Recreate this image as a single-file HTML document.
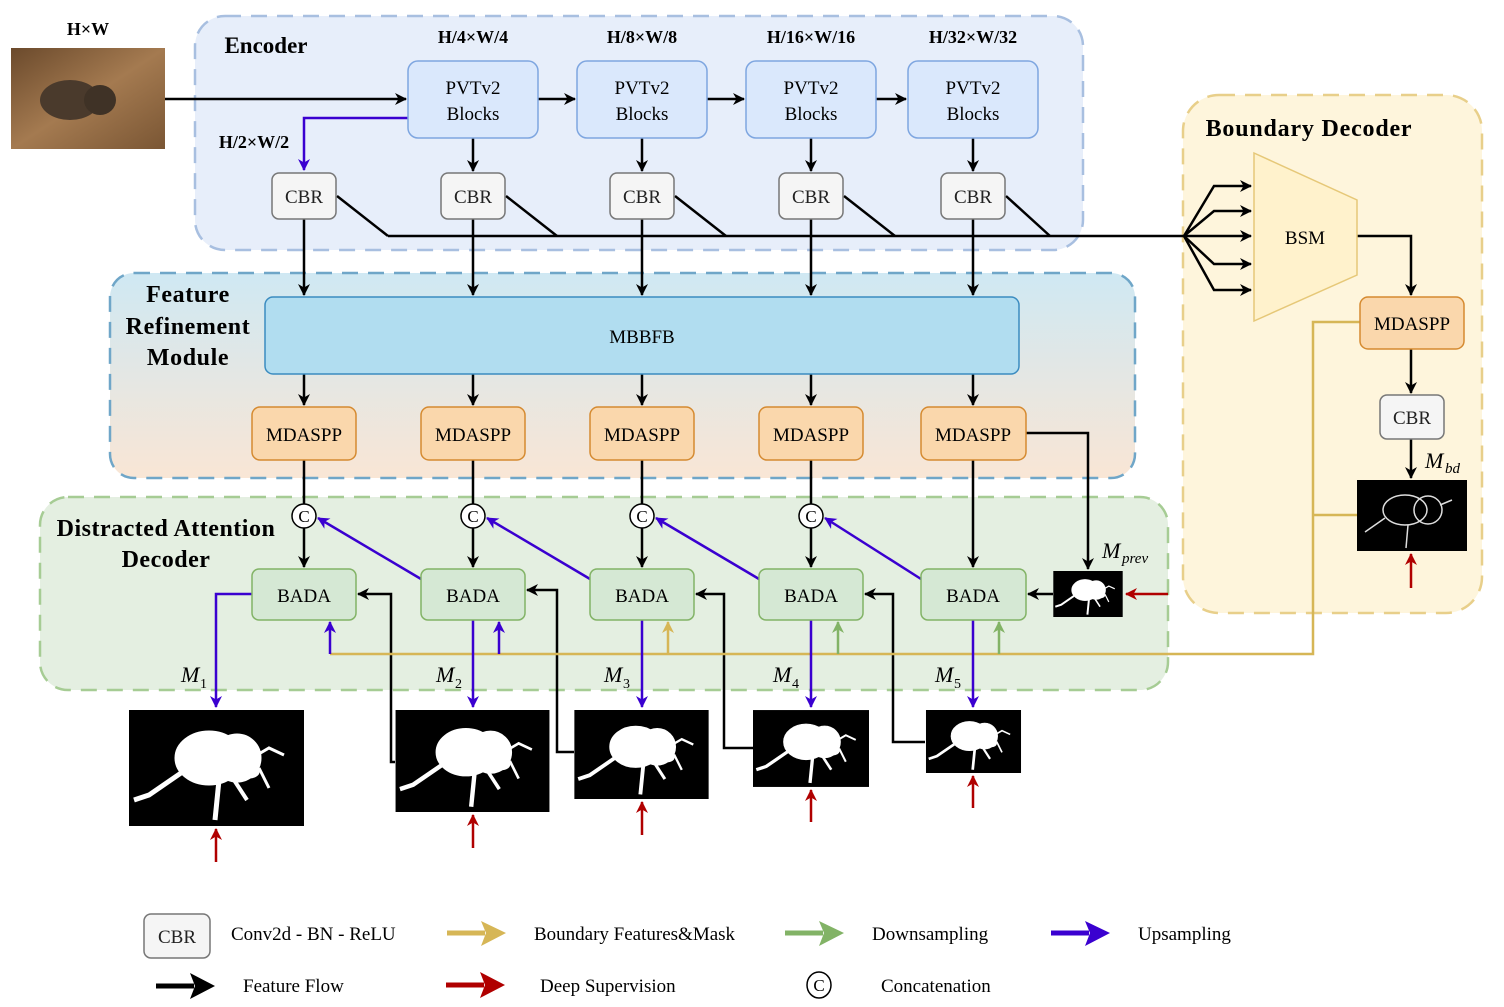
<!DOCTYPE html>
<html><head><meta charset="utf-8"><style>
html,body{margin:0;padding:0;background:#fff}
svg{display:block}
text{font-family:"Liberation Serif",serif}
</style></head><body>
<svg width="1504" height="1007" viewBox="0 0 1504 1007" xmlns="http://www.w3.org/2000/svg">
<defs>
<marker id="ak" markerWidth="12" markerHeight="12" refX="11" refY="6" orient="auto" markerUnits="userSpaceOnUse"><path d="M0,0 L12,6 L0,12 L3.5,6z" fill="#000"/></marker>
<marker id="ab" markerWidth="12" markerHeight="12" refX="11" refY="6" orient="auto" markerUnits="userSpaceOnUse"><path d="M0,0 L12,6 L0,12 L3.5,6z" fill="#3a00d0"/></marker>
<marker id="ar" markerWidth="12" markerHeight="12" refX="11" refY="6" orient="auto" markerUnits="userSpaceOnUse"><path d="M0,0 L12,6 L0,12 L3.5,6z" fill="#b00000"/></marker>
<marker id="ag" markerWidth="12" markerHeight="12" refX="11" refY="6" orient="auto" markerUnits="userSpaceOnUse"><path d="M0,0 L12,6 L0,12 L3.5,6z" fill="#82b366"/></marker>
<marker id="ay" markerWidth="12" markerHeight="12" refX="11" refY="6" orient="auto" markerUnits="userSpaceOnUse"><path d="M0,0 L12,6 L0,12 L3.5,6z" fill="#d6b656"/></marker>
<linearGradient id="frg" x1="0" y1="0" x2="0" y2="1"><stop offset="0" stop-color="#cfe8f3"/><stop offset="1" stop-color="#f9e6d5"/></linearGradient>
<linearGradient id="img" x1="0" y1="0" x2="1" y2="1"><stop offset="0" stop-color="#6b4a2c"/><stop offset="0.5" stop-color="#a47a50"/><stop offset="1" stop-color="#7a5634"/></linearGradient>
<symbol id="bug" viewBox="0 0 175 116">
<rect width="175" height="116" fill="#000"/>
<g fill="#fff" stroke="#fff">
<ellipse cx="80" cy="48" rx="34" ry="27"/>
<ellipse cx="108" cy="48" rx="24" ry="24"/>
<ellipse cx="120" cy="62" rx="10" ry="6"/>
<path d="M52,63 L20,85 L5,90" fill="none" stroke-width="5"/>
<path d="M90,70 L86,110" fill="none" stroke-width="5"/>
<path d="M105,70 L118,90" fill="none" stroke-width="4"/>
<path d="M128,45 L140,38 L155,45" fill="none" stroke-width="3"/>
<path d="M130,58 L140,78" fill="none" stroke-width="3"/>
</g>
</symbol>
</defs>

<rect x="195" y="16" width="888" height="234" rx="30" fill="#e7eefa" stroke="#a8bfe0" stroke-width="2.5" stroke-dasharray="16,10"/>
<rect x="110" y="273" width="1025" height="205" rx="24" fill="url(#frg)" stroke="#6fa6c8" stroke-width="2.5" stroke-dasharray="16,10"/>
<rect x="40" y="497" width="1128" height="193" rx="28" fill="#e4efe1" stroke="#a6cc94" stroke-width="2.5" stroke-dasharray="16,10"/>
<rect x="1183" y="95" width="299" height="518" rx="36" fill="#fef5dc" stroke="#e8cf8a" stroke-width="2.5" stroke-dasharray="16,10"/>

<text x="88" y="35" font-size="18" font-weight="bold" text-anchor="middle">H×W</text>
<text x="266" y="53" font-size="23" font-weight="bold" text-anchor="middle">Encoder</text>
<text x="473" y="43" font-size="18" font-weight="bold" text-anchor="middle">H/4×W/4</text>
<text x="642" y="43" font-size="18" font-weight="bold" text-anchor="middle">H/8×W/8</text>
<text x="811" y="43" font-size="18" font-weight="bold" text-anchor="middle">H/16×W/16</text>
<text x="973" y="43" font-size="18" font-weight="bold" text-anchor="middle">H/32×W/32</text>
<text x="254" y="148" font-size="18" font-weight="bold" text-anchor="middle">H/2×W/2</text>
<text font-size="24" font-weight="bold" text-anchor="middle" letter-spacing="0.6"><tspan x="188" y="302">Feature</tspan><tspan x="188" y="334">Refinement</tspan><tspan x="188" y="365">Module</tspan></text>
<text font-size="24" font-weight="bold" text-anchor="middle" letter-spacing="0.5"><tspan x="166" y="536">Distracted Attention</tspan><tspan x="166" y="567">Decoder</tspan></text>
<text x="1309" y="136" font-size="24" font-weight="bold" text-anchor="middle" letter-spacing="0.8">Boundary  Decoder</text>

<rect x="11" y="48" width="154" height="101" fill="url(#img)"/>
<ellipse cx="70" cy="100" rx="30" ry="20" fill="#4a3a2c"/>
<ellipse cx="100" cy="100" rx="16" ry="15" fill="#3f3226"/>

<g stroke="#000" stroke-width="2.5" fill="none">
<path d="M165,99 H406" marker-end="url(#ak)"/>
<path d="M538,99 H575" marker-end="url(#ak)"/>
<path d="M707,99 H744" marker-end="url(#ak)"/>
<path d="M876,99 H906" marker-end="url(#ak)"/>
<path d="M473,138 V171" marker-end="url(#ak)"/>
<path d="M642,138 V171" marker-end="url(#ak)"/>
<path d="M811,138 V171" marker-end="url(#ak)"/>
<path d="M973,138 V171" marker-end="url(#ak)"/>
<path d="M388,236 H1184"/>
<path d="M337,196 L388,236 M506,196 L557,236 M675,196 L726,236 M844,196 L895,236 M1006,196 L1050,236"/>
<path d="M304,219 V295" marker-end="url(#ak)"/>
<path d="M473,219 V295" marker-end="url(#ak)"/>
<path d="M642,219 V295" marker-end="url(#ak)"/>
<path d="M811,219 V295" marker-end="url(#ak)"/>
<path d="M973,219 V295" marker-end="url(#ak)"/>
<path d="M304,374 V405" marker-end="url(#ak)"/>
<path d="M473,374 V405" marker-end="url(#ak)"/>
<path d="M642,374 V405" marker-end="url(#ak)"/>
<path d="M811,374 V405" marker-end="url(#ak)"/>
<path d="M973,374 V405" marker-end="url(#ak)"/>
<path d="M1184,236 L1214,186 H1251" marker-end="url(#ak)"/>
<path d="M1184,236 L1214,211 H1251" marker-end="url(#ak)"/>
<path d="M1184,236 H1251" marker-end="url(#ak)"/>
<path d="M1184,236 L1214,264 H1251" marker-end="url(#ak)"/>
<path d="M1184,236 L1214,290 H1251" marker-end="url(#ak)"/>
<path d="M1357,236 H1411 V295" marker-end="url(#ak)"/>
<path d="M1411,349 V393" marker-end="url(#ak)"/>
<path d="M1411,439 V478" marker-end="url(#ak)"/>
<path d="M304,460 V504"/><path d="M304,528 V567" marker-end="url(#ak)"/>
<path d="M473,460 V504"/><path d="M473,528 V567" marker-end="url(#ak)"/>
<path d="M642,460 V504"/><path d="M642,528 V567" marker-end="url(#ak)"/>
<path d="M811,460 V504"/><path d="M811,528 V567" marker-end="url(#ak)"/>
<path d="M973,460 V567" marker-end="url(#ak)"/>
<path d="M1026,433 H1088 V569" marker-end="url(#ak)"/>
<path d="M1053,594 H1028" marker-end="url(#ak)"/>
<path d="M395,762 H391 V594 H358" marker-end="url(#ak)"/>
<path d="M574,752 H557 V590 H527" marker-end="url(#ak)"/>
<path d="M753,748 H724 V594 H696" marker-end="url(#ak)"/>
<path d="M925,742 H893 V594 H865" marker-end="url(#ak)"/>
</g>

<g stroke="#d6b656" stroke-width="2.5" fill="none">
<path d="M1360,322 H1313 V654 H330"/>
<path d="M1357,515 H1313"/>
<path d="M668,654 V622" marker-end="url(#ay)"/>
</g>
<g stroke="#82b366" stroke-width="2.5" fill="none">
<path d="M838,654 V622" marker-end="url(#ag)"/>
<path d="M999,654 V622" marker-end="url(#ag)"/>
</g>
<g stroke="#3a00d0" stroke-width="2.5" fill="none">
<path d="M408,118 H304 V170" marker-end="url(#ab)"/>
<path d="M330,654 V622" marker-end="url(#ab)"/>
<path d="M499,654 V622" marker-end="url(#ab)"/>
<path d="M252,594 H216 V707" marker-end="url(#ab)"/>
<path d="M473,620 V707" marker-end="url(#ab)"/>
<path d="M642,620 V707" marker-end="url(#ab)"/>
<path d="M811,620 V707" marker-end="url(#ab)"/>
<path d="M973,620 V707" marker-end="url(#ab)"/>
<path d="M421,579 L318,518" marker-end="url(#ab)"/>
<path d="M590,579 L487,518" marker-end="url(#ab)"/>
<path d="M759,579 L656,518" marker-end="url(#ab)"/>
<path d="M921,579 L825,518" marker-end="url(#ab)"/>
</g>
<g stroke="#b00000" stroke-width="2.5" fill="none">
<path d="M216,862 V829" marker-end="url(#ar)"/>
<path d="M473,848 V815" marker-end="url(#ar)"/>
<path d="M642,835 V802" marker-end="url(#ar)"/>
<path d="M811,822 V790" marker-end="url(#ar)"/>
<path d="M973,808 V776" marker-end="url(#ar)"/>
<path d="M1411,588 V554" marker-end="url(#ar)"/>
<path d="M1168,594 H1126" marker-end="url(#ar)"/>
</g>

<g fill="#dae8fc" stroke="#7ea6e0" stroke-width="1.5">
<rect x="408" y="61" width="130" height="77" rx="10"/>
<rect x="577" y="61" width="130" height="77" rx="10"/>
<rect x="746" y="61" width="130" height="77" rx="10"/>
<rect x="908" y="61" width="130" height="77" rx="10"/>
</g>
<g font-size="19" text-anchor="middle">
<text x="473" y="94">PVTv2</text><text x="473" y="120">Blocks</text>
<text x="642" y="94">PVTv2</text><text x="642" y="120">Blocks</text>
<text x="811" y="94">PVTv2</text><text x="811" y="120">Blocks</text>
<text x="973" y="94">PVTv2</text><text x="973" y="120">Blocks</text>
</g>
<g fill="#f5f5f5" stroke="#777" stroke-width="1.5">
<rect x="272" y="173" width="64" height="46" rx="7"/>
<rect x="441" y="173" width="64" height="46" rx="7"/>
<rect x="610" y="173" width="64" height="46" rx="7"/>
<rect x="779" y="173" width="64" height="46" rx="7"/>
<rect x="941" y="173" width="64" height="46" rx="7"/>
<rect x="1380" y="395" width="64" height="44" rx="7"/>
</g>
<g font-size="19" text-anchor="middle" fill="#222">
<text x="304" y="203">CBR</text><text x="473" y="203">CBR</text><text x="642" y="203">CBR</text><text x="811" y="203">CBR</text><text x="973" y="203">CBR</text><text x="1412" y="424">CBR</text>
</g>
<rect x="265" y="297" width="754" height="77" rx="8" fill="#b1ddf0" stroke="#3b8cc0" stroke-width="1.5"/>
<text x="642" y="343" font-size="19" text-anchor="middle">MBBFB</text>
<polygon points="1254,153 1357,200 1357,275 1254,321" fill="#fff2cc" stroke="#e6c878" stroke-width="1.5"/>
<text x="1305" y="244" font-size="19" text-anchor="middle">BSM</text>
<g fill="#fad7ac" stroke="#d58a30" stroke-width="1.5">
<rect x="252" y="407" width="104" height="53" rx="8"/>
<rect x="421" y="407" width="104" height="53" rx="8"/>
<rect x="590" y="407" width="104" height="53" rx="8"/>
<rect x="759" y="407" width="104" height="53" rx="8"/>
<rect x="921" y="407" width="105" height="53" rx="8"/>
<rect x="1360" y="297" width="104" height="52" rx="8"/>
</g>
<g font-size="19" text-anchor="middle">
<text x="304" y="441">MDASPP</text><text x="473" y="441">MDASPP</text><text x="642" y="441">MDASPP</text><text x="811" y="441">MDASPP</text><text x="973" y="441">MDASPP</text><text x="1412" y="330">MDASPP</text>
</g>
<g fill="#fff" stroke="#000" stroke-width="1.5">
<circle cx="304" cy="516" r="12"/><circle cx="473" cy="516" r="12"/><circle cx="642" cy="516" r="12"/><circle cx="811" cy="516" r="12"/>
</g>
<g font-size="17" text-anchor="middle">
<text x="304" y="522">C</text><text x="473" y="522">C</text><text x="642" y="522">C</text><text x="811" y="522">C</text>
</g>
<g fill="#d5e8d4" stroke="#82b366" stroke-width="1.5">
<rect x="252" y="569" width="104" height="51" rx="7"/>
<rect x="421" y="569" width="104" height="51" rx="7"/>
<rect x="590" y="569" width="104" height="51" rx="7"/>
<rect x="759" y="569" width="104" height="51" rx="7"/>
<rect x="921" y="569" width="105" height="51" rx="7"/>
</g>
<g font-size="19" text-anchor="middle">
<text x="304" y="602">BADA</text><text x="473" y="602">BADA</text><text x="642" y="602">BADA</text><text x="811" y="602">BADA</text><text x="973" y="602">BADA</text>
</g>
<use href="#bug" x="129" y="710" width="175" height="116"/>
<use href="#bug" x="395" y="710" width="155" height="102"/>
<use href="#bug" x="574" y="710" width="135" height="89"/>
<use href="#bug" x="753" y="710" width="116" height="77"/>
<use href="#bug" x="925" y="710" width="97" height="63"/>
<use href="#bug" x="1053" y="571" width="70" height="46"/>
<rect x="1357" y="480" width="110" height="71" fill="#000"/>
<g fill="none" stroke="#ddd" stroke-width="1.5">
<ellipse cx="1405" cy="510" rx="22" ry="15"/><ellipse cx="1428" cy="510" rx="14" ry="14"/>
<path d="M1385,518 L1365,532 M1408,525 L1406,548 M1440,505 L1452,500"/>
</g>
<g font-size="22" font-style="italic">
<text x="181" y="682">M</text><text x="200" y="688" font-size="14" font-style="normal">1</text>
<text x="436" y="682">M</text><text x="455" y="688" font-size="14" font-style="normal">2</text>
<text x="604" y="682">M</text><text x="623" y="688" font-size="14" font-style="normal">3</text>
<text x="773" y="682">M</text><text x="792" y="688" font-size="14" font-style="normal">4</text>
<text x="935" y="682">M</text><text x="954" y="688" font-size="14" font-style="normal">5</text>
<text x="1102" y="558">M</text><text x="1122" y="563" font-size="15">prev</text>
<text x="1425" y="468">M</text><text x="1445" y="473" font-size="15">bd</text>
</g>
<rect x="144" y="914" width="66" height="44" rx="7" fill="#f5f5f5" stroke="#777" stroke-width="1.5"/>
<text x="177" y="943" font-size="19" text-anchor="middle" fill="#222">CBR</text>
<g font-size="19">
<text x="231" y="940">Conv2d - BN - ReLU</text>
<text x="534" y="940">Boundary Features&amp;Mask</text>
<text x="872" y="940">Downsampling</text>
<text x="1138" y="940">Upsampling</text>
<text x="243" y="992">Feature Flow</text>
<text x="540" y="992">Deep Supervision</text>
<text x="881" y="992">Concatenation</text>
</g>
<g>
<path d="M447,933 H485" stroke="#d6b656" stroke-width="5"/><path d="M481,921 L506,933 L481,946 L486,933z" fill="#d6b656"/>
<path d="M785,933 H823" stroke="#82b366" stroke-width="5"/><path d="M819,921 L844,933 L819,946 L824,933z" fill="#82b366"/>
<path d="M1051,933 H1089" stroke="#3a00d0" stroke-width="5"/><path d="M1085,921 L1110,933 L1085,946 L1090,933z" fill="#3a00d0"/>
<path d="M156,986 H194" stroke="#000" stroke-width="5"/><path d="M190,973 L215,986 L190,999 L195,986z" fill="#000"/>
<path d="M446,985 H484" stroke="#b00000" stroke-width="5"/><path d="M480,972 L505,985 L480,998 L485,985z" fill="#b00000"/>
</g>
<ellipse cx="819" cy="985" rx="12" ry="13" fill="#fff" stroke="#000" stroke-width="1.5"/>
<text x="819" y="991" font-size="17" text-anchor="middle">C</text>
</svg>
</body></html>
